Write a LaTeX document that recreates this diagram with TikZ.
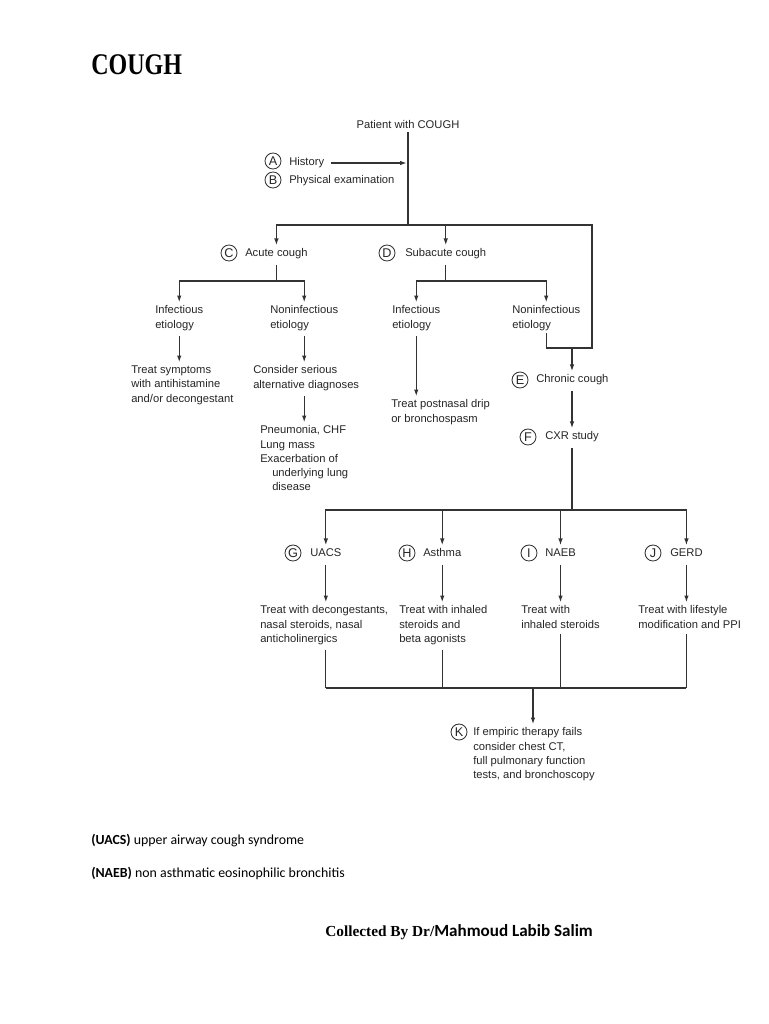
\documentclass[tikz,border=0pt]{standalone}
\usepackage{fontspec}
\setmainfont{Liberation Sans}
\newfontfamily\calib{Carlito}
\newfontfamily\timesf{Liberation Serif}
\usetikzlibrary{arrows.meta}
\definecolor{linec}{HTML}{333333}
\definecolor{textc}{HTML}{262626}
\begin{document}
\begin{tikzpicture}[x=0.75pt,y=-0.75pt,
  ln/.style={draw=linec, line width=0.85pt},
  arr/.style={ln, -{Latex[length=5pt,width=3.4pt]}, shorten >=2.5pt},
  txt/.style={text=textc, font=\fontsize{8.4}{10.7}\selectfont, inner sep=0pt, align=left},
  one/.style={txt, anchor=west, text height=6.1pt, text depth=1.8pt},
  letter/.style={circle, draw=linec, line width=0.65pt, minimum size=12pt, inner sep=0pt, text=textc, font=\fontsize{9.5}{10}\selectfont}
]
\path[use as bounding box, fill=white] (0,0) rectangle (768,1024);

% title
\node[anchor=west, inner sep=0pt, text=black, font=\timesf\bfseries\fontsize{18}{20}\selectfont] (title) at (91,65) {\scalebox{1}[1.25]{COUGH}};

% top
\node[txt] (pat) at (408,124) {Patient with COUGH};
\node[letter] (cA) at (273,161) {A};
\node[one] (hist) at (289,163) {History};
\node[letter] (cB) at (273,180) {B};
\node[one] (phys) at (289,181) {Physical examination};
\coordinate (hj) at (408,163);
\coordinate (jtop) at (408,225);
\draw[arr, shorten <=5pt, shorten >=1pt] (hist.east) -- (hj);
\draw[ln, shorten <=3pt] (pat.south) -- (jtop);

% C and D
\node[letter] (cC) at (229,253) {C};
\node[one] (acute) at (245,254) {Acute cough};
\node[letter] (cD) at (387,253) {D};
\node[one] (subac) at (405,254) {Subacute cough};
\draw[arr] (jtop) -| (acute.north);
\draw[arr] (jtop) -| (subac.north);

% etiology nodes
\node[txt, anchor=north west] (infA) at (155,305.5) {Infectious\\etiology};
\node[txt, anchor=north west] (nonA) at (270,305.5) {Noninfectious\\etiology};
\node[txt, anchor=north west] (infB) at (392,305.5) {Infectious\\etiology};
\node[txt, anchor=north west] (nonB) at (512,305.5) {Noninfectious\\etiology};
\coordinate (jC) at (274,281);
\coordinate (jD) at (446,281);
\draw[ln, shorten <=4pt] (acute.south) -- (acute.south |- jC);
\draw[arr] (acute.south |- jC) -| (infA.north);
\draw[arr] (acute.south |- jC) -| (nonA.north);
\draw[ln, shorten <=4pt] (subac.south) -- (subac.south |- jD);
\draw[arr] (subac.south |- jD) -| (infB.north);
\draw[arr] (subac.south |- jD) -| (nonB.north);

% acute branches
\node[txt, anchor=north west] (treatA) at (131,365.5) {Treat symptoms\\with antihistamine\\and/or decongestant};
\node[txt, anchor=north west] (consider) at (253,365.5) {Consider serious\\alternative diagnoses};
\node[txt, anchor=north west] (pneu) at (260,425.5) {Pneumonia, CHF\\Lung mass\\Exacerbation of\\\hspace*{9pt}underlying lung\\\hspace*{9pt}disease};
\draw[arr, shorten <=4pt] (infA.south) -- (infA.south |- treatA.north);
\draw[arr, shorten <=4pt] (nonA.south) -- (nonA.south |- consider.north);
\draw[arr, shorten <=4pt] (consider.south -| nonA.south) -- (nonA.south |- pneu.north);

% subacute branches
\node[txt, anchor=north west] (post) at (391,399.5) {Treat postnasal drip\\or bronchospasm};
\draw[arr, shorten <=4pt] (infB.south) -- (infB.south |- post.north);

% chronic
\node[letter] (cE) at (520,380) {E};
\node[one] (chronic) at (536,380) {Chronic cough};
\coordinate (jE) at (572,348);
\coordinate (jR) at (592,348);
\draw[ln] (jtop) -| (jR) -- (jE);
\draw[ln, shorten <=2pt] (nonB.south) |- (jE);
\draw[arr] (jE) -- (jE |- chronic.north);

\node[letter] (cF) at (528,437) {F};
\node[one] (cxr) at (545,437) {CXR study};
\draw[arr, shorten <=4pt] (jE |- chronic.south) -- (jE |- cxr.north);

% G-J
\coordinate (jF) at (572,510);
\draw[ln, shorten <=4pt] (jF |- cxr.south) -- (jF);
\node[letter] (cG) at (293,553) {G};
\node[one] (uacs) at (310,554) {UACS};
\node[letter] (cH) at (407,553) {H};
\node[one] (asthma) at (423,554) {Asthma};
\node[letter] (cI) at (529,553) {I};
\node[one] (naeb) at (545,554) {NAEB};
\node[letter] (cJ) at (653,553) {J};
\node[one] (gerd) at (670,554) {GERD};
\draw[arr] (jF) -| (uacs.north);
\draw[arr] (jF) -| (asthma.north);
\draw[arr] (jF) -| (naeb.north);
\draw[arr] (jF) -| (gerd.north);

\node[txt, anchor=north west] (trG) at (260,605.5) {Treat with decongestants,\\nasal steroids, nasal\\anticholinergics};
\node[txt, anchor=north west] (trH) at (399,605.5) {Treat with inhaled\\steroids and\\beta agonists};
\node[txt, anchor=north west] (trI) at (521,605.5) {Treat with\\inhaled steroids};
\node[txt, anchor=north west] (trJ) at (638,605.5) {Treat with lifestyle\\modification and PPI};
\draw[arr, shorten <=4pt] (uacs.south) -- (uacs.south |- trG.north);
\draw[arr, shorten <=4pt] (asthma.south) -- (asthma.south |- trH.north);
\draw[arr, shorten <=4pt] (naeb.south) -- (naeb.south |- trI.north);
\draw[arr, shorten <=4pt] (gerd.south) -- (gerd.south |- trJ.north);

% K
\coordinate (jK) at (533,688);
\draw[ln, shorten <=4pt] (trG.south -| uacs.south) -- (uacs.south |- jK);
\draw[ln, shorten <=4pt] (trH.south -| asthma.south) -- (asthma.south |- jK);
\draw[ln, shorten <=4pt] (trI.south -| naeb.south) -- (naeb.south |- jK);
\draw[ln, shorten <=4pt] (trJ.south -| gerd.south) -- (gerd.south |- jK);
\draw[ln] (uacs.south |- jK) -- (gerd.south |- jK);
\node[letter] (cK) at (459,732) {K};
\node[txt, anchor=north west] (kt) at (473,727.5) {If empiric therapy fails\\consider chest CT,\\full pulmonary function\\tests, and bronchoscopy};
\draw[arr] (jK) -- (jK |- kt.north);

% footnotes
\node[anchor=west, inner sep=0pt, text=black, font=\calib\fontsize{10.4}{12}\selectfont] (fn1) at (91,841) {\textbf{(UACS)} upper airway cough syndrome};
\node[anchor=west, inner sep=0pt, text=black, font=\calib\fontsize{10.4}{12}\selectfont] (fn2) at (91,873) {\textbf{(NAEB)} non asthmatic eosinophilic bronchitis};
\node[anchor=west, inner sep=0pt, text=black] (coll) at (325,932) {{\timesf\bfseries\fontsize{11.5}{13}\selectfont Collected By Dr/}{\calib\bfseries\fontsize{12.8}{14}\selectfont Mahmoud Labib Salim}};
\end{tikzpicture}
\end{document}
